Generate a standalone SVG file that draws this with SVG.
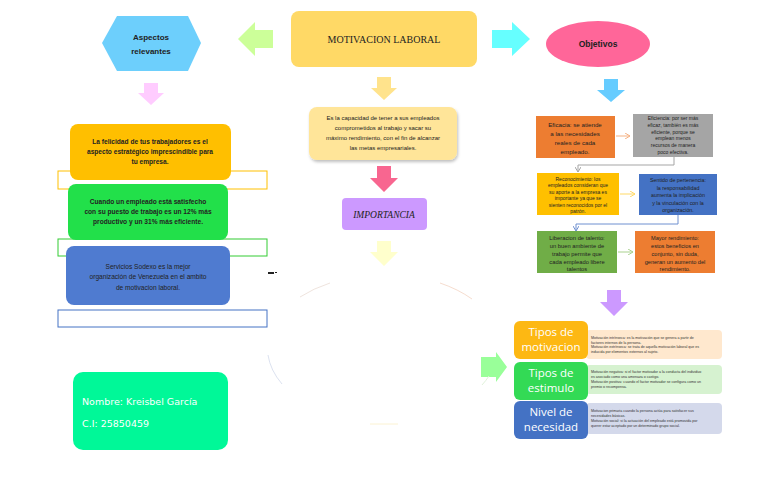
<svg xmlns="http://www.w3.org/2000/svg" width="768" height="497" viewBox="0 0 768 497">
<style>
.t{font-family:"Liberation Sans",Arial,sans-serif;fill:#222;text-anchor:middle}
.b{font-weight:bold}
.s{font-family:"Liberation Serif","Times New Roman",serif;fill:#222;text-anchor:middle}
.w{font-family:"Open Sans","DejaVu Sans",sans-serif;fill:#fff;text-anchor:middle;font-size:11.5px}
.d{font-family:"Liberation Sans",Arial,sans-serif;fill:#333;font-size:3.6px}
.ol{fill:none;stroke-width:1}
</style>
<defs>
<marker id="ah" markerWidth="6" markerHeight="6" refX="5" refY="3" orient="auto" markerUnits="userSpaceOnUse"><path d="M0,0 L5,3 L0,6" fill="none" stroke="context-stroke" stroke-width="1"/></marker>
<filter id="sh" x="-10%" y="-10%" width="120%" height="130%"><feDropShadow dx="1" dy="2" stdDeviation="1.5" flood-color="#000" flood-opacity="0.25"/></filter>
</defs>

<g id="aspectos">
<polygon points="102,43 117,16 188,16 201,43 188,71 117,71" fill="#6DCFFC"/>
<text class="t b" x="151" y="40" font-size="8">Aspectos</text>
<text class="t b" x="151" y="54" font-size="8">relevantes</text>
</g>

<g id="motivacion">
<rect x="291" y="11" width="186" height="56" rx="8" fill="#FFD966"/>
<text class="s" x="384" y="43" font-size="10">MOTIVACION LABORAL</text>
</g>

<g id="objetivos">
<ellipse cx="598" cy="44" rx="52" ry="23" fill="#FF6699"/>
<text class="t b" x="598" y="47" font-size="8.5">Objetivos</text>
</g>

<g id="definicion">
<rect x="309" y="107" width="148" height="53" rx="8" fill="#FFE599" filter="url(#sh)"/>
<text class="t" x="383" y="120" font-size="6">Es la capacidad de tener a sus empleados</text>
<text class="t" x="383" y="130" font-size="6">comprometidos al trabajo y sacar su</text>
<text class="t" x="383" y="140" font-size="6">máximo rendimiento, con el fin de alcanzar</text>
<text class="t" x="383" y="150" font-size="6">las metas empresariales.</text>
</g>

<g id="importancia">
<rect x="342" y="198" width="85" height="32" rx="4" fill="#CC99FF"/>
<text class="s" x="384" y="218" font-size="9.5" font-style="italic">IMPORTANCIA</text>
</g>

<g id="felicidad">
<rect x="58" y="171" width="209" height="18" class="ol" stroke="#FFC000"/>
<rect x="70" y="124" width="161" height="56" rx="8" fill="#FFBF00"/>
<text class="t b" x="150" y="144" font-size="6.6">La felicidad de tus trabajadores es el</text>
<text class="t b" x="150" y="154" font-size="6.6">aspecto estratégico imprescindible para</text>
<text class="t b" x="150" y="164" font-size="6.6">tu empresa.</text>
</g>

<g id="satisfecho">
<rect x="58" y="239" width="209" height="17" class="ol" stroke="#33CC33"/>
<rect x="68" y="184" width="160" height="56" rx="8" fill="#22E04A"/>
<text class="t b" x="148" y="204" font-size="6.6">Cuando un empleado está satisfecho</text>
<text class="t b" x="148" y="214" font-size="6.6">con su puesto de trabajo es un 12% más</text>
<text class="t b" x="148" y="224" font-size="6.6">productivo y un 31% más eficiente.</text>
</g>

<g id="sodexo">
<rect x="58" y="310" width="209" height="17" class="ol" stroke="#4472C4"/>
<rect x="66" y="246" width="164" height="59" rx="8" fill="#4F7BD0"/>
<text class="t" x="148" y="269" font-size="6.6">Servicios Sodexo es la mejor</text>
<text class="t" x="148" y="279" font-size="6.6">organización de Venezuela en el ambito</text>
<text class="t" x="148" y="290" font-size="6.6">de motivacion laboral.</text>
</g>

<g id="nombre">
<rect x="73" y="372" width="155" height="78" rx="10" fill="#00F898"/>
<text x="82" y="405" font-family="'DejaVu Sans',sans-serif" font-size="9.5" fill="#fff">Nombre: Kreisbel García</text>
<text x="82" y="427" font-family="'DejaVu Sans',sans-serif" font-size="9.5" fill="#fff">C.I: 25850459</text>
</g>

<g id="eficacia">
<rect x="536" y="116" width="79" height="42" fill="#ED7D31"/>
<text class="t" x="575" y="127" font-size="6.2">Eficacia: se atiende</text>
<text class="t" x="575" y="136" font-size="6.2">a las necesidades</text>
<text class="t" x="575" y="145" font-size="6.2">reales de cada</text>
<text class="t" x="575" y="154" font-size="6.2">empleado.</text>
</g>
<g id="eficiencia">
<rect x="633" y="114" width="80" height="43" fill="#A5A5A5"/>
<text class="t" x="673" y="120" font-size="5">Eficiencia: por ser más</text>
<text class="t" x="673" y="126.8" font-size="5">eficaz, también es más</text>
<text class="t" x="673" y="133.6" font-size="5">eficiente, porque se</text>
<text class="t" x="673" y="140.4" font-size="5">emplean menos</text>
<text class="t" x="673" y="147.2" font-size="5">recursos de manera</text>
<text class="t" x="673" y="154" font-size="5">poco efectiva.</text>
</g>
<g id="reconocimiento">
<rect x="537" y="173" width="82" height="42" fill="#FFC000"/>
<text class="t" x="578" y="180.5" font-size="5">Reconocimiento: los</text>
<text class="t" x="578" y="187" font-size="5">empleados consideran que</text>
<text class="t" x="578" y="193.5" font-size="5">su aporte a la empresa es</text>
<text class="t" x="578" y="200" font-size="5">importante ya que se</text>
<text class="t" x="578" y="206.5" font-size="5">sienten reconocidos por el</text>
<text class="t" x="578" y="213" font-size="5">patrón.</text>
</g>
<g id="pertenencia">
<rect x="639" y="174" width="78" height="41" fill="#4472C4"/>
<text class="t" x="678" y="182" font-size="5.3">Sentido de pertenencia:</text>
<text class="t" x="678" y="189.5" font-size="5.3">la responsabilidad</text>
<text class="t" x="678" y="197" font-size="5.3">aumenta la implicación</text>
<text class="t" x="678" y="204.5" font-size="5.3">y la vinculación con la</text>
<text class="t" x="678" y="212" font-size="5.3">organización.</text>
</g>
<g id="liberacion">
<rect x="537" y="231" width="80" height="42" fill="#70AD47"/>
<text class="t" x="577" y="240" font-size="5.8">Liberacion de talento:</text>
<text class="t" x="577" y="248" font-size="5.8">un buen ambiente de</text>
<text class="t" x="577" y="256" font-size="5.8">trabajo permite que</text>
<text class="t" x="577" y="264" font-size="5.8">cada empleado libere</text>
<text class="t" x="577" y="271" font-size="5.8">talentos</text>
</g>
<g id="rendimiento">
<rect x="635" y="231" width="80" height="42" fill="#ED7D31"/>
<text class="t" x="675" y="240" font-size="5.6">Mayor rendimiento:</text>
<text class="t" x="675" y="248" font-size="5.6">estos beneficios en</text>
<text class="t" x="675" y="256" font-size="5.6">conjunto, sin duda,</text>
<text class="t" x="675" y="264" font-size="5.6">generan un aumento del</text>
<text class="t" x="675" y="271" font-size="5.6">rendimiento.</text>
</g>

<g id="tipos-motivacion">
<rect x="586" y="330" width="136" height="29" rx="4" fill="#FFE8CE"/>
<text class="d" x="591" y="339">Motivación intrínseca: es la motivación que se genera a partir de</text>
<text class="d" x="591" y="343.5">factores internos de la persona.</text>
<text class="d" x="591" y="348">Motivación extrínseca: se trata de aquella motivación laboral que es</text>
<text class="d" x="591" y="352.5">inducida por elementos externos al sujeto.</text>
<rect x="514" y="321" width="74" height="38" rx="6" fill="#FDB813"/>
<text class="w" x="551" y="336">Tipos de</text>
<text class="w" x="551" y="351">motivacion</text>
</g>
<g id="tipos-estimulo">
<rect x="586" y="365" width="136" height="29" rx="4" fill="#D6F2D0"/>
<text class="d" x="591" y="373">Motivación negativa: si el factor motivador a la conducta del individuo</text>
<text class="d" x="591" y="377.5">es asociado como una amenaza o castigo.</text>
<text class="d" x="591" y="383">Motivación positiva: cuando el factor motivador se configura como un</text>
<text class="d" x="591" y="387.5">premio o recompensa.</text>
<rect x="514" y="362" width="74" height="38" rx="6" fill="#33DA55"/>
<text class="w" x="551" y="377">Tipos de</text>
<text class="w" x="551" y="392">estimulo</text>
</g>
<g id="nivel-necesidad">
<rect x="586" y="403" width="136" height="31" rx="4" fill="#D4D9EB"/>
<text class="d" x="591" y="412">Motivacion primaria cuando la persona actúa para satisfacer sus</text>
<text class="d" x="591" y="416.5">necesidades básicas.</text>
<text class="d" x="591" y="422">Motivación social: si la actuación del empleado está promovida por</text>
<text class="d" x="591" y="426.5">querer estar aceptado por un determinado grupo social.</text>
<rect x="514" y="401" width="74" height="38" rx="6" fill="#4472C4"/>
<text class="w" x="551" y="416">Nivel de</text>
<text class="w" x="551" y="431">necesidad</text>
</g>

<g id="connectors">
<polygon points="238,39 255,22 255,30 273,30 273,48 255,48 255,56" fill="#CCFF99"/>
<polygon points="492,30 512,30 512,22 530,39 512,56 512,48 492,48" fill="#66FFFF"/>
<polygon points="144,83 158,83 158,93 164,93 151,105 138,93 144,93" fill="#FFCCFF"/>
<polygon points="377,77 391,77 391,88 397,88 384,100 371,88 377,88" fill="#FFD966" opacity="0.75"/>
<polygon points="604,79 618,79 618,90 625,90 611,102 597,90 604,90" fill="#66CCFF"/>
<polygon points="377,166 391,166 391,178 398,178 384,192 370,178 377,178" fill="#F86690"/>
<polygon points="377,241 391,241 391,252 398,252 384,266 370,252 377,252" fill="#FFFFCC"/>
<polygon points="607,290 621,290 621,302 628,302 614,316 600,302 607,302" fill="#CC99FF"/>
<polygon points="481,357 496,357 496,352 507,367 496,382 496,377 481,377" fill="#99FF99"/>
<path d="M616,136 H630" stroke="#F4B183" stroke-width="1" fill="none" marker-end="url(#ah)"/>
<path d="M674,157 V165 H578 V172" stroke="#A5A5A5" stroke-width="1" fill="none" marker-end="url(#ah)"/>
<path d="M620,194 H635" stroke="#FFD966" stroke-width="1" fill="none" marker-end="url(#ah)"/>
<path d="M678,215 V224 H576 V231" stroke="#6F90D0" stroke-width="1" fill="none" marker-end="url(#ah)"/>
<path d="M618,252 H633" stroke="#A9D18E" stroke-width="1" fill="none" marker-end="url(#ah)"/>
<path d="M300,297 A116,75 0 0 1 330,283" stroke="#EFE4DE" fill="none"/>
<path d="M440,283 A116,75 0 0 1 472,299" stroke="#F6DDCF" fill="none"/>
<path d="M268,355 A116,75 0 0 0 282,384" stroke="#DCE2F0" fill="none"/>
<path d="M370,424 H398" stroke="#FBF2D2" fill="none"/>
<path d="M489,376 A116,75 0 0 1 482,385" stroke="#E0F2DA" fill="none"/>
<rect x="268" y="272" width="6" height="2" fill="#222"/>
<rect x="275" y="272" width="2" height="1" fill="#222"/>
</g>
</svg>
